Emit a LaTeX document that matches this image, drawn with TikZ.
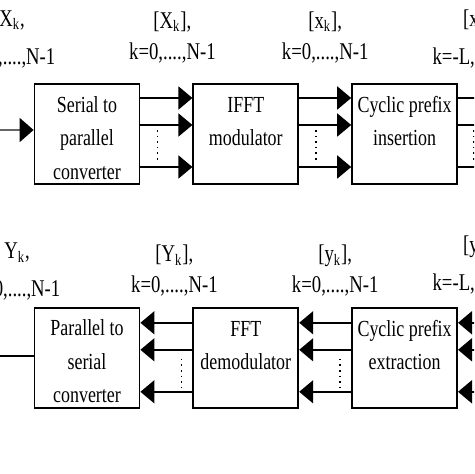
\documentclass[tikz,border=0pt]{standalone}
\usepackage{fontspec}
\setmainfont[FakeStretch=0.78]{Liberation Serif}
\usetikzlibrary{arrows.meta, positioning}
\tikzstyle{block} = [draw, line width=0.9pt, rectangle, minimum width=52.5pt, minimum height=50pt, align=center, inner sep=1pt, font=\fontsize{11.5}{16.75}\selectfont]
\tikzstyle{sig} = [align=center, inner sep=0pt, font=\fontsize{12}{15.5}\selectfont]
\tikzstyle{sigedge} = [sig, font=\fontsize{12}{19}\selectfont]
\tikzstyle{flow} = [-{Triangle[length=7pt, width=11.5pt]}, line width=0.9pt]
\tikzstyle{wire} = [line width=0.9pt]
\tikzstyle{dots} = [dotted, line width=0.8pt]

\begin{document}
\begin{tikzpicture}[node distance=26pt]
    \useasboundingbox (0,0) rectangle (237pt,237pt);
    \clip (0,0) rectangle (237pt,237pt);

    % Transmitter.
    \node (s2p) [block] at (43.5pt,170pt) {\strut Serial to\\parallel\\converter};
    \node (ifft) [block, right=of s2p] {\strut IFFT\\modulator\\\mbox{}};
    \node (cpi) [block, right=of ifft] {\strut Cyclic prefix\\insertion\\\mbox{}};
    \node (tx in) [coordinate, left=25pt of s2p.west] {};
    \node (tx out) [coordinate, right=25pt of cpi.east] {};

    % Receiver.
    \node (p2s) [block, below=61pt of s2p] {\strut Parallel to\\serial\\converter};
    \node (fft) [block, right=of p2s] {\strut FFT\\demodulator\\\mbox{}};
    \node (cpe) [block, right=of fft] {\strut Cyclic prefix\\extraction\\\mbox{}};
    \node (rx in) [coordinate, right=25pt of cpe.east] {};
    \node (rx out) [coordinate, left=25pt of p2s.west] {};

    % Signal labels.
    \node (lbl Xk) [sigedge] at ([xshift=-10.75pt, yshift=22pt]s2p.north west) {X\textsubscript{k},\\k=0,....,N-1};
    \node (lbl X) [sig] at ([xshift=16pt, yshift=23pt]s2p.north east) {[X\textsubscript{k}],\\k=0,....,N-1};
    \node (lbl x) [sig] at ([xshift=13pt, yshift=23pt]ifft.north east) {[x\textsubscript{k}],\\k=0,....,N-1};
    \node (lbl xcp) [sigedge] at ([xshift=11pt, yshift=22pt]cpi.north east) {[x\textsubscript{k}],\\k=-L,....,N-1};
    \node (lbl Yk) [sigedge] at ([xshift=-8.25pt, yshift=17.75pt]p2s.north west) {Y\textsubscript{k},\\k=0,....,N-1};
    \node (lbl Y) [sig] at ([xshift=17pt, yshift=18pt]p2s.north east) {[Y\textsubscript{k}],\\k=0,....,N-1};
    \node (lbl y) [sig] at ([xshift=18pt, yshift=18pt]fft.north east) {[y\textsubscript{k}],\\k=0,....,N-1};
    \node (lbl ycp) [sigedge] at ([xshift=11pt, yshift=21pt]cpe.north east) {[y\textsubscript{k}],\\k=-L,....,N-1};

    % Arrows.
    \draw [flow, draw=black!60, -{Triangle[length=7pt, width=12pt, color=black]}] ([yshift=2pt]tx in) -- ([yshift=2pt]s2p.west);
    \foreach \dy in {18pt, 4.5pt, -16.5pt} {
        \draw [flow] ([yshift=\dy]s2p.east) -- ([yshift=\dy]ifft.west);
        \draw [flow] ([yshift=\dy]ifft.east) -- ([yshift=\dy]cpi.west);
        \draw [wire] ([yshift=\dy]cpi.east) -- ([yshift=\dy]tx out);
    }
    \foreach \dy in {17.5pt, 4pt, -17pt} {
        \draw [flow] ([yshift=\dy]rx in) -- ([yshift=\dy]cpe.east);
        \draw [flow] ([yshift=\dy]cpe.west) -- ([yshift=\dy]fft.east);
        \draw [flow] ([yshift=\dy]fft.west) -- ([yshift=\dy]p2s.east);
    }
    \draw [wire] ([yshift=1pt]p2s.west) -- ([yshift=1pt]rx out);

    % Dotted bundles.
    \draw [dots] ([xshift=8.5pt, yshift=2pt]s2p.east) -- ([xshift=8.5pt, yshift=-13.5pt]s2p.east);
    \draw [dots] ([xshift=8.5pt, yshift=2pt]ifft.east) -- ([xshift=8.5pt, yshift=-13.5pt]ifft.east);
    \draw [dots] ([xshift=8pt, yshift=2pt]cpi.east) -- ([xshift=8pt, yshift=-13.5pt]cpi.east);
    \draw [dots] ([xshift=-5.5pt, yshift=-0.5pt]fft.west) -- ([xshift=-5.5pt, yshift=-15pt]fft.west);
    \draw [dots] ([xshift=-5.5pt, yshift=-0.5pt]cpe.west) -- ([xshift=-5.5pt, yshift=-15pt]cpe.west);
\end{tikzpicture}
\end{document}
